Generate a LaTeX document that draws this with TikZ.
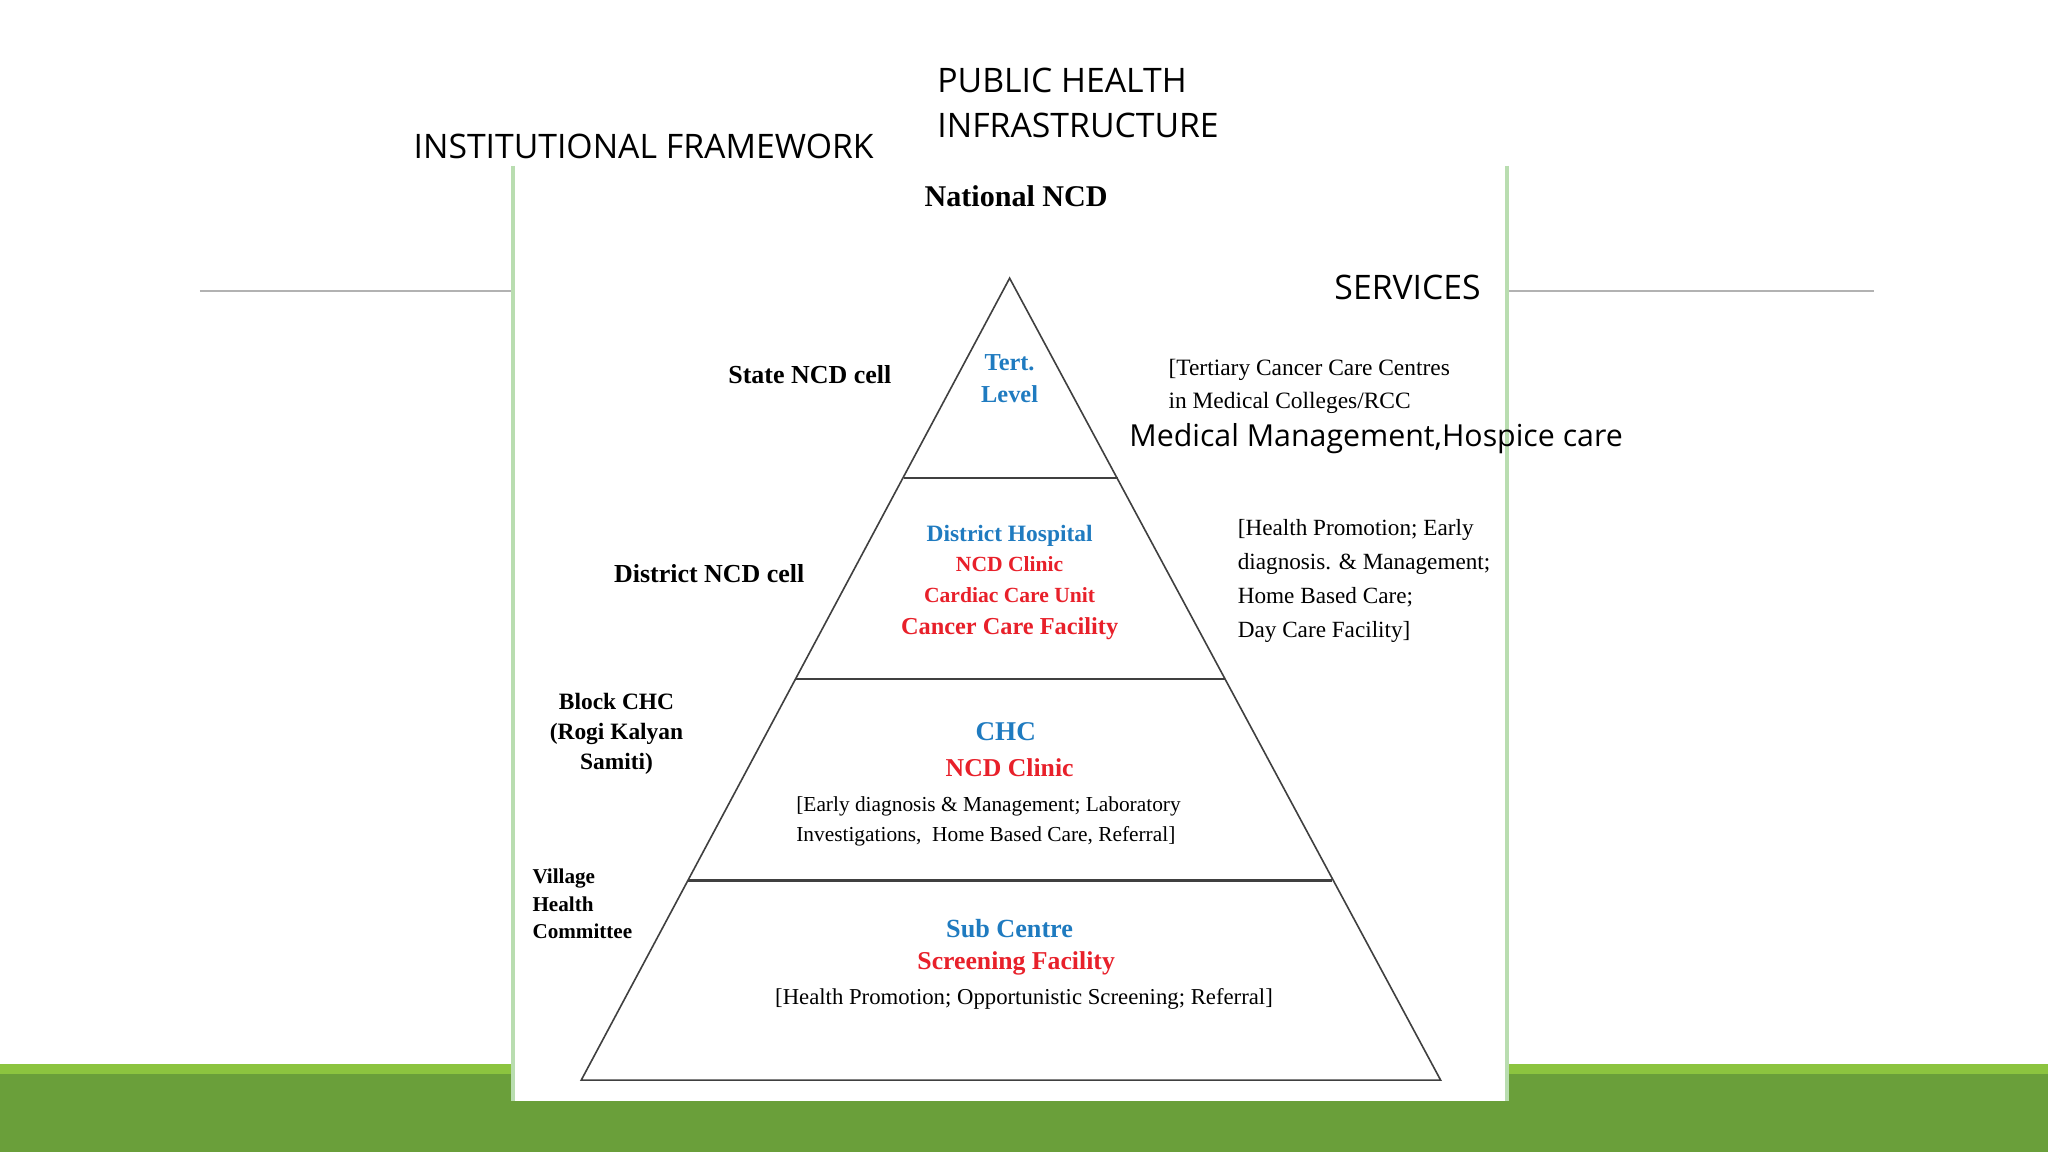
\documentclass[tikz,border=0pt]{standalone}
\usepackage{fontspec}
\setmainfont{Liberation Serif}
\newfontfamily\osans{Open Sans}
\definecolor{dgreen}{HTML}{6A9F3A}
\definecolor{lgreen}{HTML}{8CC43F}
\definecolor{tblue}{HTML}{1F7BC0}
\definecolor{tred}{HTML}{E8202A}
\definecolor{pline}{HTML}{B9DDB0}
\tikzset{
 sans/.style={font=\osans\fontsize{7.35pt}{10pt}\selectfont,anchor=west,inner sep=0},
 lab/.style={font=\bfseries\fontsize{5.65pt}{6.6pt}\selectfont,inner sep=0,align=center},
 small/.style={font=\fontsize{5.15pt}{7.3pt}\selectfont,inner sep=0,anchor=west,align=left},
 bl/.style={text=tblue,font=\bfseries\fontsize{5.1pt}{6pt}\selectfont,inner sep=0},
 rd/.style={text=tred,font=\bfseries\fontsize{5.1pt}{6pt}\selectfont,inner sep=0},
 tri/.style={draw=black!75,line width=0.35pt}
}
\begin{document}
\begin{tikzpicture}[x=0.01cm,y=-0.01cm]
\useasboundingbox[fill=white] (0,0) rectangle (1568,882);
\fill[lgreen] (0,815) rectangle (1568,823);
\fill[dgreen] (0,822) rectangle (1568,882);
\draw[gray!60,line width=0.4pt] (153,223) -- (392,223) (1155,223) -- (1435,223);
\fill[white] (392,127) rectangle (1155,843);
\draw[pline,line width=0.8pt] (393,127) -- (393,843) (1154,127) -- (1154,843);
\node[sans] (t1) at (717,81) {\begin{tabular}{@{}l@{}}PUBLIC HEALTH\\INFRASTRUCTURE\end{tabular}};
\node[sans] (t2) at (316,112) {INSTITUTIONAL FRAMEWORK};
\node[sans] (t3) at (1021,220) {SERVICES};
\node[sans,font=\osans\fontsize{6.6pt}{8pt}\selectfont] (t4) at (864,336) {Medical Management,Hospice care};
% pyramid
\coordinate (ap) at (773,213);
\coordinate (bl) at (445,827);
\coordinate (br) at (1103,827);
\draw[tri] (ap) -- (bl) -- (br) -- cycle;
\draw[tri] (692,366) -- (856,366);
\draw[tri] (609,520) -- (938,520);
\draw[tri,line width=0.6pt] (527,674) -- (1020,674);
\node[lab,font=\bfseries\fontsize{6.55pt}{7pt}\selectfont] (nat) at (778,150) {National NCD};
\node[lab] (st) at (620,287) {State NCD cell};
\node[lab] (dc) at (543,439) {District NCD cell};
\node[lab,font=\bfseries\fontsize{5.1pt}{6.5pt}\selectfont] (bc) at (472,562) {Block CHC\\(Rogi Kalyan\\Samiti)};
\node[lab,anchor=west,align=left,font=\bfseries\fontsize{4.6pt}{5.9pt}\selectfont] (vh) at (407,692) {Village\\Health\\Committee};
\node[bl,align=center,font=\bfseries\fontsize{5.3pt}{7.1pt}\selectfont] (tl) at (773,290) {Tert.\\Level};
\node[small,font=\fontsize{5.1pt}{7.2pt}\selectfont] (tr) at (894,296) {[Tertiary Cancer Care Centres\\in Medical Colleges/RCC};
\node[small,font=\fontsize{5.05pt}{7.4pt}\selectfont] (dr) at (947,445) {[Health Promotion; Early\\diagnosis. \& Management;\\Home Based Care;\\Day Care Facility]};
\node[bl] (dh) at (773,410) {District Hospital};
\node[rd,font=\bfseries\fontsize{4.7pt}{6pt}\selectfont] (n1) at (773,432) {NCD Clinic};
\node[rd,font=\bfseries\fontsize{4.7pt}{6pt}\selectfont] (cc) at (773,456) {Cardiac Care Unit};
\node[rd,font=\bfseries\fontsize{5.3pt}{6pt}\selectfont] (cf) at (773,481) {Cancer Care Facility};
\node[bl,font=\bfseries\fontsize{5.9pt}{7pt}\selectfont] (chc) at (770,560) {CHC};
\node[rd,font=\bfseries\fontsize{5.6pt}{7pt}\selectfont] (n2) at (773,588) {NCD Clinic};
\node[small,font=\fontsize{4.65pt}{6.6pt}\selectfont] (cr) at (609,629) {[Early diagnosis \& Management; Laboratory\\Investigations,\ \ Home Based Care, Referral]};
\node[bl,font=\bfseries\fontsize{5.7pt}{7pt}\selectfont] (sc) at (773,711) {Sub Centre};
\node[rd,font=\bfseries\fontsize{5.6pt}{7pt}\selectfont] (sf) at (778,738) {Screening Facility};
\node[lab,font=\fontsize{4.95pt}{6pt}\selectfont] (sr) at (784,765) {[Health Promotion; Opportunistic Screening; Referral]};
\end{tikzpicture}
\end{document}
